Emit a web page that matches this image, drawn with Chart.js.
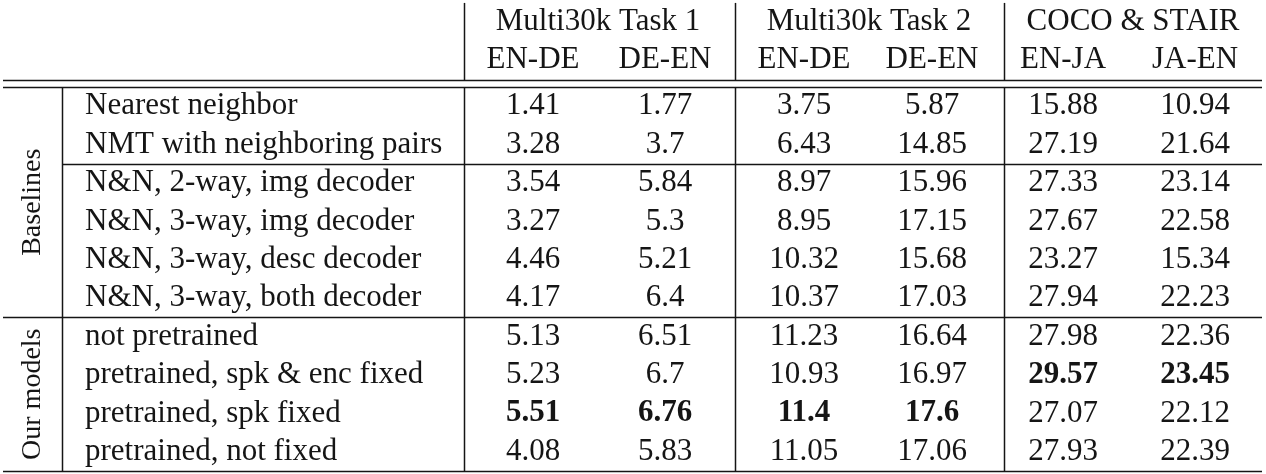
<!DOCTYPE html>
<html>
<head>
<meta charset="utf-8">
<title>Results table</title>
<script src="https://cdn.jsdelivr.net/npm/chart.js@4.4.1/dist/chart.umd.min.js"></script>
<style>
  html, body { margin: 0; padding: 0; background: #fff; }
  #wrap { width: 1266px; height: 474px; position: relative; }
</style>
</head>
<body>
<div id="wrap"><canvas id="resultsTable"></canvas></div>
<script>
// Table contents
const groups = ['Multi30k Task 1', 'Multi30k Task 2', 'COCO & STAIR'];
const directions = ['EN-DE', 'DE-EN', 'EN-DE', 'DE-EN', 'EN-JA', 'JA-EN'];
const sections = ['Baselines', 'Our models'];
const sectionRows = [6, 4];
const rowLabels = [
    'Nearest neighbor',
    'NMT with neighboring pairs',
    'N&N, 2-way, img decoder',
    'N&N, 3-way, img decoder',
    'N&N, 3-way, desc decoder',
    'N&N, 3-way, both decoder',
    'not pretrained',
    'pretrained, spk & enc fixed',
    'pretrained, spk fixed',
    'pretrained, not fixed'
];
const enDeTask1 = [1.41, 3.28, 3.54, 3.27, 4.46, 4.17, 5.13, 5.23, 5.51, 4.08];
const deEnTask1 = [1.77, 3.7, 5.84, 5.3, 5.21, 6.4, 6.51, 6.7, 6.76, 5.83];
const enDeTask2 = [3.75, 6.43, 8.97, 8.95, 10.32, 10.37, 11.23, 10.93, 11.4, 11.05];
const deEnTask2 = [5.87, 14.85, 15.96, 17.15, 15.68, 17.03, 16.64, 16.97, 17.6, 17.06];
const enJa = [15.88, 27.19, 27.33, 27.67, 23.27, 27.94, 27.98, 29.57, 27.07, 27.93];
const jaEn = [10.94, 21.64, 23.14, 22.58, 15.34, 22.23, 22.36, 23.45, 22.12, 22.39];
const columns = [enDeTask1, deEnTask1, enDeTask2, deEnTask2, enJa, jaEn];

// Layout (x in page units, y in row units)
const colX = [533, 665, 804, 932, 1063, 1195];
const groupX = [598, 869, 1133];
const groupRules = [464, 735, 1004];
const ruleLeft = 3, ruleRight = 1262, innerLeft = 62;
const labelX = 85, sectionX = 33;
const headerRowY = [-1.69, -0.70];
const headerTop = -2.19, doubleRule = [-0.18, 0];
const ink = '#151515';
const font = "'Liberation Serif', 'Times New Roman', serif";

const datasets = columns.map((vals, c) => ({
    label: directions[c],
    values: vals,
    data: vals.map((v, r) => ({ x: colX[c], y: r + 0.5 })),
    pointRadius: 0,
    pointHoverRadius: 0
}));

const tablePlugin = {
    id: 'tableText',
    afterDatasetsDraw(chart) {
        const { ctx, scales: { x, y } } = chart;
        const px = v => x.getPixelForValue(v);
        const py = v => y.getPixelForValue(v);
        ctx.save();

        // rules
        ctx.strokeStyle = ink;
        ctx.lineWidth = 1.5;
        const hline = (x0, x1, v) => {
            ctx.beginPath();
            ctx.moveTo(px(x0), Math.round(py(v)) + 0.5);
            ctx.lineTo(px(x1), Math.round(py(v)) + 0.5);
            ctx.stroke();
        };
        const vline = (xv, v0, v1) => {
            ctx.beginPath();
            ctx.moveTo(Math.round(px(xv)) + 0.5, py(v0));
            ctx.lineTo(Math.round(px(xv)) + 0.5, py(v1));
            ctx.stroke();
        };
        hline(ruleLeft, ruleRight, doubleRule[0]);
        hline(ruleLeft, ruleRight, doubleRule[1]);
        hline(innerLeft, ruleRight, 2);   // inside the baselines block
        let start = 0;
        sectionRows.forEach(n => {
            start += n;
            hline(ruleLeft, ruleRight, start);
        });
        vline(innerLeft, 0, rowLabels.length);
        groupRules.forEach(g => {
            vline(g, headerTop, doubleRule[0]);
            vline(g, doubleRule[1], rowLabels.length);
        });

        ctx.fillStyle = ink;
        ctx.textBaseline = 'middle';

        // headers
        ctx.font = '31px ' + font;
        ctx.textAlign = 'center';
        groups.forEach((g, i) => ctx.fillText(g, px(groupX[i]), py(headerRowY[0])));
        directions.forEach((d, i) => ctx.fillText(d, px(colX[i]), py(headerRowY[1])));

        // row labels
        ctx.textAlign = 'left';
        rowLabels.forEach((l, r) => ctx.fillText(l, px(labelX), py(r + 0.5)));

        // section labels (rotated)
        ctx.font = '28px ' + font;
        ctx.textAlign = 'center';
        start = 0;
        sectionRows.forEach((n, s) => {
            ctx.save();
            ctx.translate(px(sectionX), py(start + n / 2));
            ctx.rotate(-Math.PI / 2);
            ctx.fillText(sections[s], 0, 0);
            ctx.restore();
            start += n;
        });

        // cell values, best per column in bold
        chart.data.datasets.forEach((ds, i) => {
            const best = Math.max(...ds.values);
            chart.getDatasetMeta(i).data.forEach((pt, j) => {
                const v = ds.values[j];
                ctx.font = (v === best ? 'bold ' : '') + '31px ' + font;
                ctx.fillText(String(v), pt.x, pt.y);
            });
        });
        ctx.restore();
    }
};

new Chart(document.getElementById('resultsTable'), {
    type: 'scatter',
    data: { datasets: datasets },
    options: {
        responsive: true,
        maintainAspectRatio: false,
        animation: false,
        events: [],
        layout: { padding: 0 },
        plugins: {
            legend: { display: false },
            tooltip: { enabled: false }
        },
        scales: {
            x: { type: 'linear', display: false, min: 0, max: 1266 },
            y: { type: 'linear', display: false, reverse: true, min: -2.266, max: 10.078 }
        }
    },
    plugins: [tablePlugin]
});
</script>
</body>
</html>
